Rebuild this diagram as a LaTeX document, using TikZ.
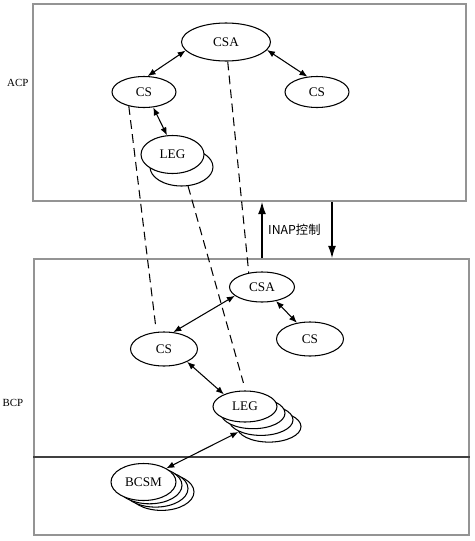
\documentclass[tikz,border=0pt]{standalone}
\usepackage{fontspec}
\setmainfont{Liberation Serif}
\newfontfamily\cjkfont{Noto Sans CJK SC}
\usetikzlibrary{shapes.geometric,arrows.meta}
\begin{document}
\begin{tikzpicture}[x=0.02cm,y=-0.02cm,
		ell/.style={draw,ellipse,fill=white,inner sep=0pt,line width=.6pt},
		pane/.style={draw=black!42,line width=.9pt,inner sep=0pt},
		tag/.style={font=\fontsize{6.2}{7}\selectfont},
		link/.style={{Latex[length=4.5pt,width=3.6pt]}-{Latex[length=4.5pt,width=3.6pt]},line width=.6pt},
		ctrl/.style={-{Latex[length=7pt,width=4.5pt]},line width=.8pt},
		dashln/.style={dash pattern=on 5pt off 3pt,line width=.6pt}]
	\tikzset{every node/.style={font=\fontsize{7.5}{9}\selectfont}}
	\useasboundingbox (0,0) rectangle (474,541);
	\node[pane,minimum width=8.66cm,minimum height=3.94cm] (acp) at (249.5,102.5) {};
	\node[pane,minimum width=8.7cm,minimum height=5.52cm] (bcp) at (251.5,397) {};
	\draw[black!75,line width=.8pt] (bcp.west |- 0,457) -- (bcp.east |- 0,457);
	\node[tag] (acplbl) at (17.8,83) {ACP};
	\node[tag] (bcplbl) at (13,403) {BCP};
	\node[ell,minimum width=1.78cm,minimum height=.76cm] (csa1) at (226,42) {CSA};
	\node[ell,minimum width=1.28cm,minimum height=.62cm] (cs1) at (144,92) {CS};
	\node[ell,minimum width=1.28cm,minimum height=.62cm] (cs1r) at (317,92) {CS};
	\node[ell,minimum width=1.26cm,minimum height=.76cm] (leg1b) at (181.5,167) {};
	\node[ell,minimum width=1.26cm,minimum height=.76cm] (leg1) at (172.5,154.5) {LEG};
	\node[ell,minimum width=1.3cm,minimum height=.6cm] (csa2) at (262,287) {CSA};
	\node[ell,minimum width=1.34cm,minimum height=.68cm] (cs2) at (164,349) {CS};
	\node[ell,minimum width=1.34cm,minimum height=.68cm] (cs2r) at (310,339) {CS};
	\node[ell,minimum width=1.28cm,minimum height=.62cm] (leg2c) at (269,426.6) {};
	\node[ell,minimum width=1.28cm,minimum height=.62cm] (leg2b) at (261,419.9) {};
	\node[ell,minimum width=1.28cm,minimum height=.62cm] (leg2a) at (253,413.2) {};
	\node[ell,minimum width=1.28cm,minimum height=.62cm] (leg2) at (245,406.5) {LEG};
	\node[ell,minimum width=1.3cm,minimum height=.74cm] (bcsmc) at (161.5,491.9) {};
	\node[ell,minimum width=1.3cm,minimum height=.74cm] (bcsmb) at (155.5,488.6) {};
	\node[ell,minimum width=1.3cm,minimum height=.74cm] (bcsma) at (149.5,485.3) {};
	\node[ell,minimum width=1.3cm,minimum height=.74cm] (bcsm) at (143.5,482) {BCSM};
	\draw[link] (csa1.192) -- (cs1.77);
	\draw[link] (csa1.-11) -- (cs1r.122);
	\draw[link] (cs1.-59) -- (leg1.106);
	\draw[link] (csa2.198) -- (cs2.61);
	\draw[link] (csa2.-45) -- (cs2r.129);
	\draw[link] (cs2.-29) -- (leg2.150);
	\draw[link] (leg2c.190) -- (bcsm.31);
	\draw[dashln,shorten >=3pt] (cs1.223) -- (cs2.114);
	\draw[dashln] (csa1.-85) -- (csa2.133);
	\draw[dashln,shorten >=4.5pt] (leg1b.-71) -- (leg2.88);
	\node[font=\cjkfont\fontsize{7}{8}\selectfont,anchor=west] (inap) at (262,230) {INAP控制};
	\coordinate (dn) at (332,230);
	\draw[ctrl] (inap.west |- bcp.north) -- (inap.west |- acp.south);
	\draw[ctrl] (dn |- acp.south) -- (dn |- bcp.north);
\end{tikzpicture}
\end{document}
